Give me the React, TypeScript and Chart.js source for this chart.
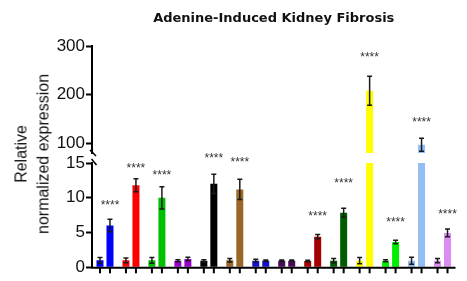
import React, { useEffect, useRef } from 'react';
import { Chart, registerables } from 'chart.js';

Chart.register(...registerables);

// ---------- data ----------
const TITLE = 'Adenine-Induced Kidney Fibrosis';
const Y_TITLE_LINE1 = 'Relative';
const Y_TITLE_LINE2 = 'normalized expression';

const groups = ['1', '2', '3', '4', '5', '6', '7', '8', '9', '10', '11', '12', '13', '14'];
const groupColors = [
  '#0000FF', '#FF0000', '#00C000', '#9900CC', '#000000', '#9A6728', '#1010D0',
  '#4D0A5C', '#A50000', '#005C00', '#FFFF00', '#00EE00', '#92BEF4', '#DA8CF0',
];
const controlValues = [1.0, 1.0, 1.0, 0.95, 0.95, 1.0, 0.95, 0.95, 0.9, 0.95, 0.95, 0.95, 0.95, 0.95];
const controlErrors = [0.4, 0.35, 0.4, 0.15, 0.15, 0.25, 0.2, 0.1, 0.1, 0.3, 0.45, 0.15, 0.5, 0.3];
const adenineValues = [6.0, 11.8, 10.0, 1.2, 12.0, 11.2, 0.95, 0.95, 4.4, 7.85, 208, 3.65, 97, 4.95];
const adenineErrors = [0.9, 0.95, 1.6, 0.25, 1.4, 1.45, 0.1, 0.1, 0.3, 0.65, 30, 0.25, 13.5, 0.55];
const sigLabels = ['****', '****', '****', '', '****', '****', '', '', '****', '****', '****', '****', '****', '****'];
const sigLevels = [9.4, 14.7, 13.65, null, 16.2, 15.6, null, null, 7.75, 12.55, 283.5, 6.95, 149.5, 8.1];

const lowerTicks = [0, 5, 10, 15];
const upperTicks = [100, 200, 300];
const UPPER_MIN = 80;

// ---------- styling ----------
const TICK_FONT = { family: '"Liberation Sans", Arial, sans-serif', size: 17 };
const CAT_PCT = 0.77;
const BAR_PCT = 0.7;

const errorBarPlugin = {
  id: 'errorBars',
  afterDatasetsDraw(chart: any) {
    const { ctx, chartArea } = chart;
    const y = chart.scales.y;
    ctx.save();
    ctx.beginPath();
    ctx.rect(chartArea.left, chartArea.top - 1, chartArea.right - chartArea.left, chartArea.bottom - chartArea.top + 1);
    ctx.clip();
    ctx.strokeStyle = '#1a1a1a';
    ctx.lineWidth = 1.5;
    chart.data.datasets.forEach((ds: any, di: number) => {
      const meta = chart.getDatasetMeta(di);
      meta.data.forEach((bar: any, i: number) => {
        const v = ds.data[i];
        const e = ds.errors[i];
        const x = bar.x;
        const yTop = y.getPixelForValue(v + e);
        const yBot = y.getPixelForValue(v - e);
        ctx.beginPath();
        ctx.moveTo(x, yTop);
        ctx.lineTo(x, yBot);
        ctx.moveTo(x - 2.5, yTop);
        ctx.lineTo(x + 2.5, yTop);
        ctx.moveTo(x - 2.5, yBot);
        ctx.lineTo(x + 2.5, yBot);
        ctx.stroke();
      });
    });
    ctx.restore();
  },
};

function makeStarPlugin(part: 'upper' | 'lower') {
  return {
    id: 'stars_' + part,
    afterDatasetsDraw(chart: any) {
      const { ctx } = chart;
      const y = chart.scales.y;
      const meta = chart.getDatasetMeta(1);
      ctx.save();
      ctx.font = '12px "Liberation Sans", Arial, sans-serif';
      ctx.fillStyle = '#333';
      ctx.textAlign = 'center';
      ctx.textBaseline = 'alphabetic';
      sigLevels.forEach((lvl, i) => {
        if (lvl === null || !sigLabels[i]) return;
        const inUpper = lvl >= UPPER_MIN;
        if ((part === 'upper') !== inUpper) return;
        const x = meta.data[i].x;
        const yc = y.getPixelForValue(lvl);
        ctx.fillText(sigLabels[i], x, yc + 7);
      });
      ctx.restore();
    },
  };
}

const titlePlugin = {
  id: 'chartTitle',
  afterDraw(chart: any) {
    const { ctx, chartArea } = chart;
    ctx.save();
    ctx.font = 'bold 13px "DejaVu Sans", sans-serif';
    ctx.fillStyle = '#111';
    ctx.textAlign = 'center';
    ctx.textBaseline = 'alphabetic';
    ctx.fillText(TITLE, (chartArea.left + chartArea.right) / 2, 22);
    ctx.restore();
  },
};

function makeBreakPlugin(part: 'upper' | 'lower') {
  return {
    id: 'break_' + part,
    afterDraw(chart: any) {
      const { ctx, chartArea } = chart;
      ctx.save();
      ctx.strokeStyle = '#000';
      ctx.lineWidth = 1.6;
      ctx.beginPath();
      if (part === 'upper') {
        const b = chartArea.bottom;
        ctx.moveTo(chartArea.left - 2, b - 3);
        ctx.lineTo(chartArea.left + 4, b + 3);
      } else {
        const t = chartArea.top;
        ctx.moveTo(chartArea.left - 0.5, t - 4);
        ctx.lineTo(chartArea.left + 4.5, t + 2);
      }
      ctx.stroke();
      ctx.restore();
    },
  };
}

const xAxisPlugin = {
  id: 'xAxisLine',
  afterDraw(chart: any) {
    const { ctx, chartArea } = chart;
    const b = chartArea.bottom;
    ctx.save();
    ctx.strokeStyle = '#000';
    ctx.lineWidth = 2;
    ctx.beginPath();
    ctx.moveTo(chartArea.left - 1, b + 0.5);
    ctx.lineTo(chartArea.right, b + 0.5);
    ctx.stroke();
    chart.data.datasets.forEach((_ds: any, di: number) => {
      chart.getDatasetMeta(di).data.forEach((bar: any) => {
        ctx.beginPath();
        ctx.moveTo(bar.x, b);
        ctx.lineTo(bar.x, b + 6);
        ctx.stroke();
      });
    });
    ctx.restore();
  },
};

function buildConfig(part: 'upper' | 'lower') {
  const upper = part === 'upper';
  const tickValues = upper ? upperTicks : lowerTicks;
  return {
    type: 'bar' as const,
    data: {
      labels: groups,
      datasets: [
        {
          label: 'Control',
          data: controlValues,
          errors: controlErrors,
          backgroundColor: groupColors,
          clip: 0,
          categoryPercentage: CAT_PCT,
          barPercentage: BAR_PCT,
        },
        {
          label: 'Adenine',
          data: adenineValues,
          errors: adenineErrors,
          backgroundColor: groupColors,
          clip: 0,
          categoryPercentage: CAT_PCT,
          barPercentage: BAR_PCT,
        },
      ],
    },
    options: {
      animation: false,
      responsive: true,
      maintainAspectRatio: false,
      layout: {
        padding: upper
          ? { top: 46, bottom: 12, left: 0, right: 11.5 }
          : { top: 18, bottom: 13.7, left: 0, right: 11.5 },
      },
      plugins: {
        legend: { display: false },
        tooltip: { enabled: false },
        title: { display: false },
      },
      scales: {
        x: { display: false, offset: true },
        y: {
          min: upper ? UPPER_MIN : lowerTicks[0],
          max: tickValues[tickValues.length - 1],
          afterBuildTicks: (scale: any) => {
            scale.ticks = tickValues.map((v) => ({ value: v }));
          },
          afterFit: (scale: any) => {
            scale.width = 92;
          },
          ticks: {
            font: TICK_FONT,
            color: '#111',
            padding: 1,
          },
          grid: {
            drawOnChartArea: false,
            tickLength: 6,
            tickWidth: 2,
            tickColor: '#000',
          },
          border: { color: '#000', width: 2 },
        },
      },
    },
    plugins: upper
      ? [errorBarPlugin, makeStarPlugin('upper'), titlePlugin, makeBreakPlugin('upper')]
      : [errorBarPlugin, makeStarPlugin('lower'), makeBreakPlugin('lower'), xAxisPlugin],
  };
}

export default function App() {
  const upperRef = useRef<HTMLCanvasElement | null>(null);
  const lowerRef = useRef<HTMLCanvasElement | null>(null);

  useEffect(() => {
    const charts: Chart[] = [];
    if (upperRef.current) charts.push(new Chart(upperRef.current, buildConfig('upper') as any));
    if (lowerRef.current) charts.push(new Chart(lowerRef.current, buildConfig('lower') as any));
    return () => charts.forEach((c) => c.destroy());
  }, []);

  return (
    <div
      style={{
        position: 'fixed',
        left: 0,
        top: 0,
        width: 467,
        height: 281,
        background: '#fff',
        overflow: 'hidden',
      }}
    >
      <div style={{ position: 'absolute', left: 0, top: 0, width: 467, height: 165 }}>
        <canvas ref={upperRef} />
      </div>
      <div style={{ position: 'absolute', left: 0, top: 145, width: 467, height: 136 }}>
        <canvas ref={lowerRef} />
      </div>
      <div
        style={{
          position: 'absolute',
          left: 31.75,
          top: 154,
          transform: 'translate(-50%, -50%) rotate(-90deg)',
          whiteSpace: 'nowrap',
          textAlign: 'center',
          fontFamily: '"Liberation Sans", Arial, sans-serif',
          fontSize: 16,
          lineHeight: '21.5px',
          color: '#111',
        }}
      >
        {Y_TITLE_LINE1}
        <br />
        {Y_TITLE_LINE2}
      </div>
    </div>
  );
}
